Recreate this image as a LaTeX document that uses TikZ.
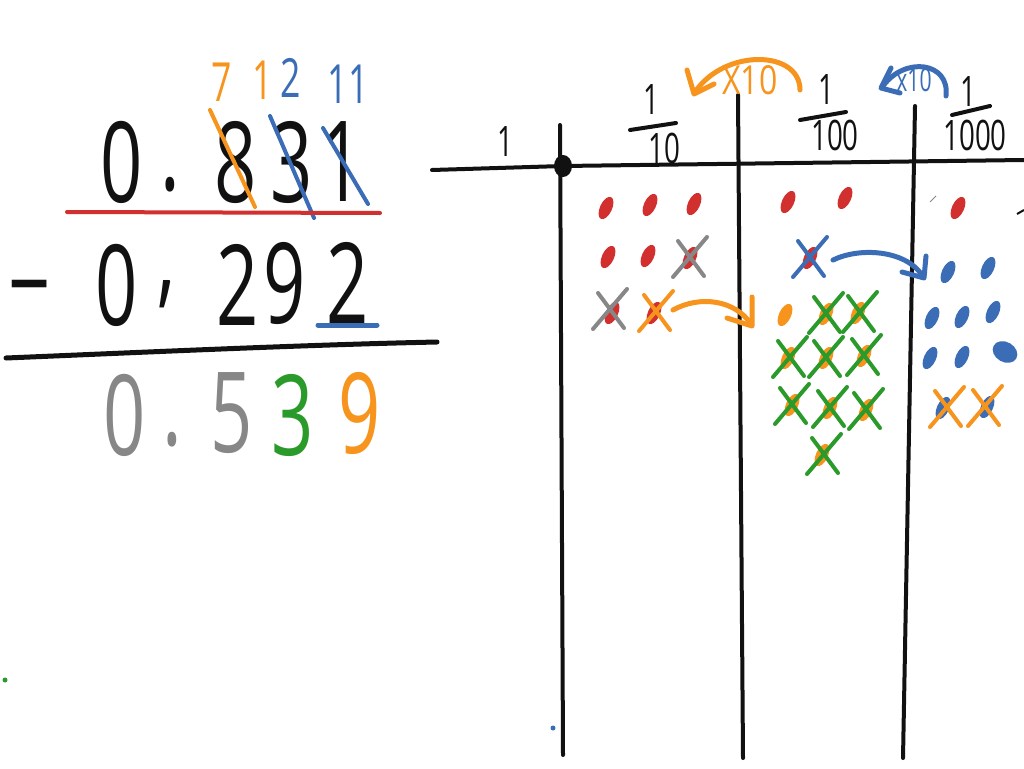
\documentclass[tikz,border=0pt]{standalone}
\usepackage{fontspec}
\setmainfont{Open Sans}
\newfontfamily\hand[FakeStretch=0.66]{Open Sans}
\newfontfamily\handw[FakeStretch=0.8]{Open Sans}
\definecolor{ink}{HTML}{111111}
\definecolor{pred}{HTML}{D1302F}
\definecolor{porange}{HTML}{F6941D}
\definecolor{pblue}{HTML}{3A6DB6}
\definecolor{pgreen}{HTML}{2A9A2A}
\definecolor{pgray}{HTML}{878787}
\tikzset{
  pen/.style={line width=5pt, line cap=round, line join=round},
  fine/.style={line width=4pt, line cap=round, line join=round},
  big/.style={font=\hand\fontsize{112}{112}\selectfont, inner sep=0pt},
  mid/.style={font=\hand\fontsize{54}{54}\selectfont, inner sep=0pt},
  lab/.style={font=\hand\fontsize{42}{42}\selectfont, inner sep=0pt, text=ink},
  drop/.pic={\fill[rotate=-25] (0,0) ellipse (6 and 12);},
  xmark/.pic={\draw[fine] (-17,19) -- (17,-21); \draw[fine] (-12,-17) -- (14,18);}
}
\begin{document}
\begin{tikzpicture}[x=1pt,y=-1pt]
\useasboundingbox (0,0) rectangle (1024,768);
\fill[white] (0,0) rectangle (1024,768);

% ---------- column subtraction ----------
\node[mid,text=porange] (b7) at (222,82) {7};
\node[mid,text=porange] (b1) at (263,80) {1};
\node[mid,text=pblue] (b2) at (291,78) {2};
\node[mid,text=pblue] (b11) at (348,84) {11};

\node[big,text=ink] (a0) at (122,162) {0};
\node[big,text=ink] (ap) at (170,185) {.};
\node[big,text=ink] (a8) at (236,162) {8};
\node[big,text=ink] (a3) at (292,162) {3};
\node[big,text=ink] (a1) at (342,162) {1};
\draw[fine,porange] (210,110) -- (255,207);
\draw[fine,pblue] (270,116) -- (314,218);
\draw[fine,pblue] (323,128) -- (368,204);
\draw[fine,pred] (67,212) -- (380,213);

\node[big,text=ink] (m) at (30,302) {−};
\node[big,text=ink] (c0) at (117,285) {0};
\node[big,text=ink] (cp) at (167,294) {,};
\node[big,text=ink] (c2) at (238,285) {2};
\node[big,text=ink] (c9) at (285,283) {9};
\node[big,text=ink] (c2b) at (348,283) {2};
\draw[pen,pblue] (318,325) -- (377,325);
\draw[pen,ink] (6,358) .. controls (150,352) and (300,345) .. (437,342);

\node[big,text=pgray] (r0) at (125,415) {0};
\node[big,text=pgray] (rp) at (172,440) {.};
\node[big,text=pgray] (r5) at (232,413) {5};
\node[big,text=pgreen] (r3) at (293,415) {3};
\node[big,text=porange] (r9) at (360,413) {9};

% ---------- place value chart ----------
\draw[fine,ink] (432,170) -- (563,166) -- (1024,160);
\draw[fine,ink] (560,125) -- (563,755);
\draw[fine,ink] (738,95) -- (743,758);
\draw[fine,ink] (915,106) -- (903,758);
\fill[ink] (563,166) ellipse (9 and 11);

\node[lab] (one) at (505,142) {1};
\node[lab] (n10) at (651,100) {1};
\draw[fine,ink] (630,130) -- (676,123);
\node[lab] (d10) at (664,148) {10};
\node[lab] (n100) at (826,90) {1};
\draw[fine,ink] (800,120) -- (846,112);
\node[lab] (d100) at (835,135) {100};
\node[lab] (n1000) at (968,92) {1};
\draw[fine,ink] (952,115) -- (990,106);
\node[lab] (d1000) at (975,135) {1000};

% x10 arrows
\node[font=\handw\fontsize{40}{40}\selectfont,inner sep=0pt,text=porange] (ox) at (750,80) {X10};
\draw[pen,porange] (800,90) .. controls (800,50) and (725,48) .. (695,92);
\draw[pen,porange] (687,70) -- (694,94) -- (714,84);
\node[font=\hand\fontsize{32}{32}\selectfont,inner sep=0pt,text=pblue] (bx) at (914,80) {x10};
\draw[pen,pblue] (946,96) .. controls (950,62) and (905,56) .. (883,86);
\draw[pen,pblue] (891,68) -- (881,88) -- (900,93);

% tenths
\foreach \p in {(606,208),(650,205),(694,204),(608,257),(648,256),(690,258),(612,313),(654,313)}
  \pic[color=pred] at \p {drop};
\pic[color=pgray] at (690,258) {xmark};
\pic[color=pgray] at (610,310) {xmark};
\pic[color=porange] at (656,312) {xmark};
\draw[pen,porange] (673,310) .. controls (700,295) and (735,300) .. (751,324);
\draw[pen,porange] (727,318) -- (752,326) -- (752,297);

% hundredths
\foreach \p in {(788,202),(845,198),(810,258)}
  \pic[color=pred] at \p {drop};
\pic[color=pblue] at (810,258) {xmark};
\draw[pen,pblue] (833,260) .. controls (860,247) and (905,250) .. (922,275);
\draw[pen,pblue] (902,272) -- (924,278) -- (926,256);
\foreach \p in {(785,315),(826,314),(858,313),(788,358),(826,358),(864,356),(792,405),(830,408),(866,410),(822,455)}
  \pic[color=porange] at \p {drop};
\foreach \p in {(826,314),(860,313),(790,358),(826,358),(864,356),(792,405),(830,408),(866,410),(824,455)}
  \pic[color=pgreen] at \p {xmark};

% thousandths
\pic[color=pred] at (958,208) {drop};
\foreach \p in {(948,272),(988,268),(932,318),(962,317),(993,312),(930,358),(962,357),(943,408),(987,407)}
  \pic[color=pblue] at \p {drop};
\fill[pblue,rotate around={-30:(1005,352)}] (1005,352) ellipse (13 and 10);
\pic[color=porange] at (947,408) {xmark};
\pic[color=porange] at (985,407) {xmark};

% stray marks
\fill[pgreen] (5,680) circle (2.5);
\fill[pblue] (553,728) circle (2.5);
\draw[line width=2pt,ink] (1017,214) -- (1024,210);
\draw[line width=1pt,pgray] (930,202) -- (936,196);
\end{tikzpicture}
\end{document}
